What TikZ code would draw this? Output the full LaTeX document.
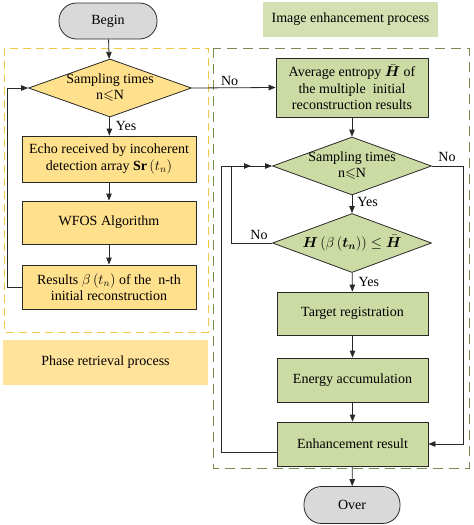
\documentclass[tikz,border=0pt]{standalone}
\usepackage{amsmath,amssymb,bm}
\usepackage{fontspec}
\setmainfont{Liberation Serif}
\usetikzlibrary{shapes.geometric,arrows.meta,calc}
\definecolor{yfill}{RGB}{255,224,140}
\definecolor{yfill2}{RGB}{255,227,155}
\definecolor{gfill}{RGB}{204,219,163}
\definecolor{gfill2}{RGB}{212,224,178}
\definecolor{grayfill}{RGB}{217,217,217}
\definecolor{ydash}{RGB}{240,200,70}
\definecolor{gdash}{RGB}{120,140,80}
\definecolor{edge}{RGB}{40,40,40}
\newcommand{\fs}{\fontsize{14}{16.5}\selectfont}
\tikzset{
  every node/.style={font=\fs},
  box/.style={draw=edge, line width=0.8pt, align=center, inner sep=2pt},
  ybox/.style={box, fill=yfill, minimum width=174pt},
  gbox/.style={box, fill=gfill, minimum width=151pt},
  term/.style={draw=edge, line width=0.8pt, fill=grayfill, rounded corners=17.5pt, minimum height=36pt},
  dia/.style={diamond, draw=edge, line width=0.8pt, aspect=2.75, inner sep=0pt},
  arr/.style={-{Triangle[length=7pt,width=5.5pt]}, line width=0.8pt, draw=edge},
  lbl/.style={inner sep=1pt}
}
\begin{document}
\begin{tikzpicture}[x=1pt,y=-1pt]
\useasboundingbox (0,0) rectangle (474,525);
% group frames
\draw[draw=ydash, line width=1pt, dash pattern=on 8pt off 5pt] (4,48) rectangle (208,332);
\draw[draw=gdash, line width=1pt, dash pattern=on 10pt off 6pt] (213,48) rectangle (469,468);
\node[fill=yfill2, minimum width=205pt, minimum height=45pt] (phase) at (105.5,362.5) {Phase retrieval process};
\node[fill=gfill2, minimum width=175pt, minimum height=35pt] (imgproc) at (350.5,19.5) {Image enhancement process};
% left column
\node[term, minimum width=98pt] (begin) at (108,21) {Begin};
\node[dia, fill=yfill, minimum width=163pt, minimum height=58pt] (d1) at (110,88)
  {\makebox[0pt]{\begin{tabular}{c}Sampling times\\ n$\leqslant$N\end{tabular}}};
\node[ybox, minimum height=46pt] (echo) at (109,159)
  {Echo received by incoherent\\ detection array $\mathbf{Sr}\left(t_n\right)$};
\node[ybox, minimum height=43pt] (wfos) at (109,222.5) {WFOS Algorithm};
\node[ybox, minimum height=44pt] (res) at (109,287)
  {Results $\beta\left(t_n\right)$ of the~ n-th\\ initial reconstruction};
% right column
\node[gbox, minimum width=152pt, minimum height=59pt] (avg) at (352,87.5)
  {Average entropy $\bm{\bar{H}}$ of\\ the multiple~ initial\\ reconstruction results};
\node[dia, fill=gfill, minimum width=159pt, minimum height=58pt] (d2) at (352,166)
  {\makebox[0pt]{\begin{tabular}{c}Sampling times\\ n$\leqslant$N\end{tabular}}};
\node[dia, fill=gfill, minimum width=159pt, minimum height=59pt] (d3) at (352,243)
  {\makebox[0pt]{$\bm{H}\left(\beta\left(\bm{t_n}\right)\right)\le\bm{\bar{H}}$}};
\node[gbox, minimum height=43pt] (target) at (352.5,313.5) {Target registration};
\node[gbox, minimum height=44pt] (energy) at (352.5,380) {Energy accumulation};
\node[gbox, minimum height=44pt] (enh) at (352.5,444) {Enhancement result};
\node[term, minimum width=96pt, minimum height=37pt] (over) at (352,505) {Over};
% connectors left
\draw[arr] (begin) -- (d1);
\draw[arr] (d1) -- (echo) node[lbl, pos=0.45, right=5pt] {Yes};
\draw[arr] (echo) -- (wfos);
\draw[arr] (wfos) -- (res);
\coordinate (lloop) at (7,287);
\draw[arr] (res.west) -- (lloop) |- (d1.west);
\draw[arr] (d1.east) -- (avg.west) node[lbl, pos=0.45, above=1pt] {No};
% connectors right
\draw[arr] (avg) -- (d2);
\draw[arr] (d2) -- (d3) node[lbl, pos=0.4, right=4pt] {Yes};
\draw[arr] (d3) -- (target) node[lbl, pos=0.5, right=5pt] {Yes};
\draw[arr] (target) -- (energy);
\draw[arr] (energy) -- (enh);
\draw[arr] (enh) -- (over);
\coordinate (rcorner) at (463,166);
\draw[arr] (d2.east) -- (rcorner) |- (enh.east);
\node[lbl] (no2) at (447,157) {No};
\coordinate (inner) at (231,243);
\draw[arr] (d3.west) -- (inner) |- (d2.west);
\node[lbl] (no3) at (259,235) {No};
\coordinate (enhout) at ($(enh.west)+(0,8)$);
\coordinate (outer) at (221,452);
\coordinate (outerend) at (251,166);
\draw[arr] (enhout) -- (outer) |- (outerend);
\end{tikzpicture}
\end{document}
